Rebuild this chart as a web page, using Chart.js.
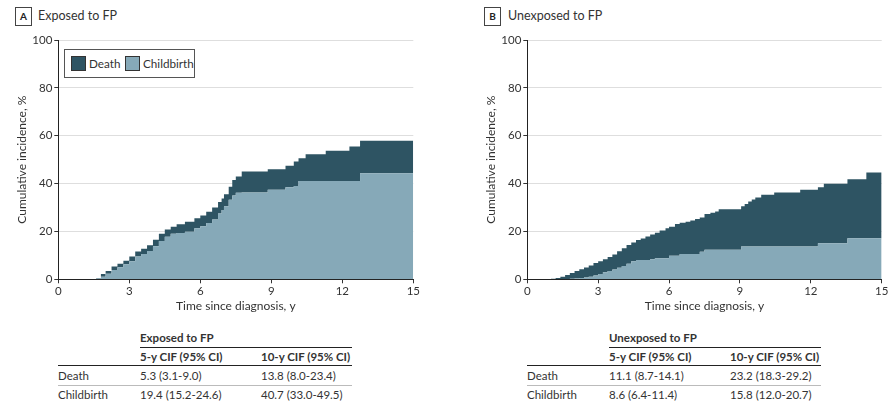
<!DOCTYPE html>
<html>
<head>
<meta charset="utf-8">
<script src="https://cdn.jsdelivr.net/npm/chart.js@4"></script>
<style>
  html, body { margin: 0; padding: 0; background: #fff; }
  body { width: 890px; height: 407px; position: relative; overflow: hidden; font-family: Lato, 'Open Sans', sans-serif; color: #333; }
  canvas { position: absolute; top: 0; }
  .abs { position: absolute; white-space: nowrap; line-height: 16px; }
  .tag { position: absolute; width: 15px; height: 17px; border: 1px solid #444; font: bold 10px Lato, sans-serif; text-align: center; line-height: 17px; color: #222; }
  .ptitle { position: absolute; font-size: 12.5px; line-height: 16px; color: #333; }
  .legend { position: absolute; left: 64px; top: 49px; width: 129px; height: 27px; border: 1px solid #555; background: #fff; }
  .sw { position: absolute; top: 6px; width: 13px; height: 13px; border: 1px solid #333; }
  .lt { position: absolute; top: 5px; font-size: 11.7px; line-height: 16px; color: #333; }
  .rule { position: absolute; height: 0; }
  .hd { font-weight: bold; font-size: 11.5px; }
  .cell { font-size: 11.5px; }
</style>
</head>
<body>

<div class="tag" style="left:15px;top:7px;">A</div>
<div class="ptitle" style="left:38px;top:8px;">Exposed to FP</div>
<div class="tag" style="left:484px;top:7px;">B</div>
<div class="ptitle" style="left:508px;top:8px;">Unexposed to FP</div>

<canvas id="chartA" width="445" height="316" style="left:0"></canvas>
<canvas id="chartB" width="445" height="316" style="left:445px"></canvas>

<div class="legend">
  <div class="sw" style="left:6px;background:#2e5463"></div>
  <div class="lt" style="left:24px">Death</div>
  <div class="sw" style="left:60px;background:#86a9b8"></div>
  <div class="lt" style="left:78px">Childbirth</div>
</div>

<div id="tableA"></div>
<div id="tableB"></div>

<script>
// Time points (years) and cumulative incidence (%)
const timesA = [0, 1.6, 1.8, 2.0, 2.25, 2.5, 2.75, 3.0, 3.25, 3.5, 3.75, 4.0, 4.25, 4.5, 4.75, 5.0, 5.35, 5.75, 6.0, 6.25, 6.5, 6.75, 6.9, 7.0, 7.2, 7.35, 7.5, 7.75, 8.85, 9.6, 9.95, 10.15, 10.45, 11.3, 12.3, 12.75, 15];
const childbirthA = [0, 0.3, 1.1, 2.3, 3.9, 5.0, 6.3, 7.5, 9.5, 10.6, 11.8, 13.8, 16.0, 17.8, 19.0, 19.4, 19.9, 21.3, 22.2, 23.5, 25.0, 27.5, 29.0, 30.5, 33.2, 35.0, 36.2, 36.3, 37.4, 38.5, 39.0, 41.1, 41.1, 41.1, 41.1, 44.3, 44.3];
const deathA = [0, 0.2, 1.1, 1.2, 1.4, 1.5, 1.5, 2.0, 2.1, 2.2, 2.4, 2.7, 3.0, 3.0, 3.0, 3.6, 4.2, 4.2, 4.5, 4.7, 5.0, 4.8, 4.8, 5.0, 5.5, 6.5, 6.8, 8.7, 8.6, 8.9, 10.2, 9.5, 11.2, 12.6, 14.4, 13.6, 13.6];

const timesB = [0, 0.8, 1.0, 1.2, 1.4, 1.6, 1.8, 2.0, 2.2, 2.4, 2.6, 2.8, 3.0, 3.2, 3.4, 3.6, 3.8, 4.0, 4.2, 4.4, 4.6, 4.8, 5.0, 5.2, 5.4, 5.6, 5.85, 6.0, 6.25, 6.45, 6.7, 6.9, 7.1, 7.3, 7.5, 7.75, 7.95, 8.1, 9.05, 9.2, 9.35, 9.5, 9.65, 9.9, 10.45, 11.55, 12.3, 12.55, 13.55, 14.35, 15];
const childbirthB = [0, 0, 0, 0, 0, 0.1, 0.2, 0.3, 0.5, 0.7, 1.1, 1.6, 2.2, 2.9, 3.5, 4.1, 4.8, 5.6, 6.5, 7.5, 8.1, 8.1, 8.1, 8.4, 8.8, 8.8, 8.8, 9.8, 9.8, 10.6, 10.6, 10.6, 10.6, 11.5, 12.3, 12.3, 12.3, 12.3, 13.7, 13.7, 13.7, 13.7, 13.7, 13.7, 13.7, 13.7, 15.1, 15.1, 17.2, 17.2, 17.2];
const deathB = [0, 0.1, 0.2, 0.5, 1.1, 1.7, 2.4, 3.2, 3.7, 4.2, 4.7, 5.2, 5.3, 5.5, 5.8, 6.3, 6.9, 7.4, 7.8, 7.9, 8.3, 9.0, 9.8, 10.3, 10.7, 11.6, 12.5, 12.2, 13.3, 13.0, 13.5, 14.0, 14.6, 14.3, 15.0, 15.5, 16.0, 17.0, 16.8, 17.8, 18.8, 19.6, 20.5, 21.6, 22.6, 23.7, 23.4, 24.8, 24.6, 27.4, 27.4];

const yTicks = [0, 20, 40, 60, 80, 100];
const xTicks = [0, 3, 6, 9, 12, 15];

// Table values
const tableCols = ['5-y CIF (95% CI)', '10-y CIF (95% CI)'];
const tableRows = ['Death', 'Childbirth'];
const cifA = [['5.3 (3.1-9.0)', '13.8 (8.0-23.4)'], ['19.4 (15.2-24.6)', '40.7 (33.0-49.5)']];
const cifB = [['11.1 (8.7-14.1)', '23.2 (18.3-29.2)'], ['8.6 (6.4-11.4)', '15.8 (12.0-20.7)']];

const DARK = '#2e5463';
const LIGHT = '#86a9b8';
const FONT = 'Lato';

function pts(times, vals) {
  return times.map((t, i) => ({ x: t, y: vals[i] }));
}

function makeChart(id, times, childbirth, death, padLeft, padRight) {
  new Chart(document.getElementById(id), {
    type: 'line',
    data: {
      datasets: [
        { label: 'Childbirth', data: pts(times, childbirth), stepped: true, fill: 'origin',
          backgroundColor: LIGHT, borderWidth: 0, pointRadius: 0 },
        { label: 'Death', data: pts(times, death), stepped: true, fill: '-1',
          backgroundColor: DARK, borderWidth: 0, pointRadius: 0 }
      ]
    },
    options: {
      responsive: false,
      animation: false,
      devicePixelRatio: 1,
      layout: { padding: { top: 40, left: padLeft, right: padRight, bottom: 0 } },
      plugins: { legend: { display: false }, tooltip: { enabled: false } },
      scales: {
        x: {
          type: 'linear', min: 0, max: 15,
          afterBuildTicks: s => { s.ticks = xTicks.map(v => ({ value: v })); },
          afterFit: s => { s.height = 36.7; },
          ticks: { font: { family: FONT, size: 11.5 }, color: '#333', padding: 1, maxRotation: 0 },
          grid: { drawOnChartArea: false, tickColor: '#333', tickLength: 4 },
          border: { color: '#222', width: 1 },
          title: { display: true, text: 'Time since diagnosis, y', color: '#333',
                   font: { family: FONT, size: 12 }, padding: { top: 0, bottom: 2.5 } }
        },
        y: {
          stacked: true, min: 0, max: 100,
          afterBuildTicks: s => { s.ticks = yTicks.map(v => ({ value: v })); },
          afterFit: s => { s.width = 58.3; },
          ticks: { font: { family: FONT, size: 11.5 }, color: '#333', padding: 2 },
          grid: { color: '#dedede', tickColor: '#333', tickLength: 4 },
          border: { color: '#222', width: 1 },
          title: { display: true, text: 'Cumulative incidence, %', color: '#333',
                   font: { family: FONT, size: 12 }, padding: { top: 15, bottom: 0 } }
        }
      }
    }
  });
}

makeChart('chartA', timesA, childbirthA, deathA, 0, 31.7);
makeChart('chartB', timesB, childbirthB, deathB, 24, 8.3);

function buildTable(el, offset, title, cif) {
  const x0 = 58 + offset, c1 = 140 + offset, c2 = 261 + offset, xEnd = 352 + offset;
  let h = '';
  h += `<div class="abs hd" style="left:${c1}px;top:330px">${title}</div>`;
  h += `<div class="rule" style="left:${c1}px;top:346.5px;width:${xEnd - c1}px;border-top:1px solid #222"></div>`;
  h += `<div class="abs hd" style="left:${c1}px;top:349px">${tableCols[0]}</div>`;
  h += `<div class="abs hd" style="left:${c2}px;top:349px">${tableCols[1]}</div>`;
  h += `<div class="rule" style="left:${x0}px;top:365px;width:${xEnd - x0}px;border-top:1.5px solid #222"></div>`;
  const rowTop = [368, 387];
  tableRows.forEach((r, i) => {
    h += `<div class="abs cell" style="left:${x0}px;top:${rowTop[i]}px">${r}</div>`;
    h += `<div class="abs cell" style="left:${c1}px;top:${rowTop[i]}px">${cif[i][0]}</div>`;
    h += `<div class="abs cell" style="left:${c2}px;top:${rowTop[i]}px">${cif[i][1]}</div>`;
  });
  h += `<div class="rule" style="left:${x0}px;top:385px;width:${xEnd - x0}px;border-top:1px solid #bbb"></div>`;
  el.innerHTML = h;
}

buildTable(document.getElementById('tableA'), 0, 'Exposed to FP', cifA);
buildTable(document.getElementById('tableB'), 469, 'Unexposed to FP', cifB);
</script>
</body>
</html>
